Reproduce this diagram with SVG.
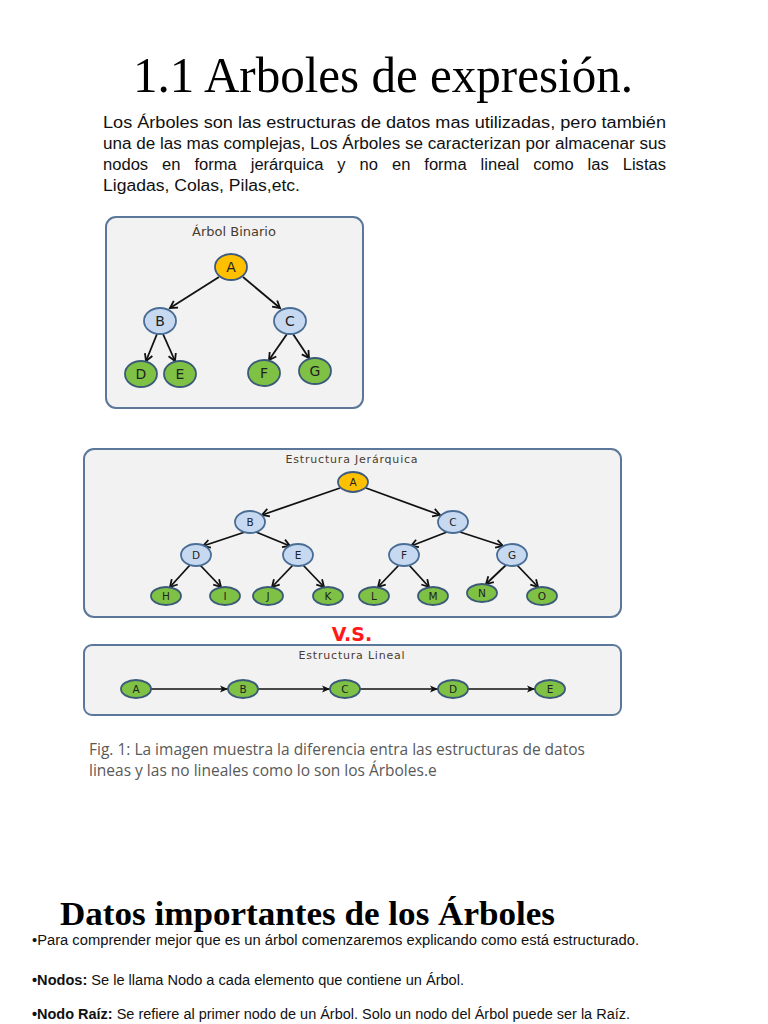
<svg xmlns="http://www.w3.org/2000/svg" width="768" height="1024" viewBox="0 0 768 1024">
<defs>
<marker id="open" markerWidth="10" markerHeight="10" refX="8" refY="5" orient="auto" markerUnits="userSpaceOnUse">
<path d="M1,1 L8,5 L1,9" fill="none" stroke="#111" stroke-width="1.8"/>
</marker>
<marker id="fill" markerWidth="10" markerHeight="8" refX="8" refY="4" orient="auto" markerUnits="userSpaceOnUse">
<path d="M0,0.5 L8,4 L0,7.5 L2,4 Z" fill="#111"/>
</marker>
</defs>
<style>
.frame{fill:#f2f2f2;stroke:#5b7799;stroke-width:2}
.root{fill:#ffc000;stroke:#3e5b80;stroke-width:1.8}
.mid{fill:#c6d9f1;stroke:#4a6d96;stroke-width:1.8}
.leaf{fill:#7ec144;stroke:#3b5a78;stroke-width:1.8}
.lbl{font-family:"DejaVu Sans",Verdana,sans-serif;fill:#222;text-anchor:middle}
.big{font-size:14px}
.sm{font-size:10.5px}
.edge{stroke:#111;stroke-width:1.8;fill:none;marker-end:url(#open)}
.ledge{stroke:#111;stroke-width:1.6;fill:none;marker-end:url(#fill)}
.cap{font-family:"DejaVu Sans",Verdana,sans-serif;fill:#4a3c30;text-anchor:middle}
.body{font-family:"Liberation Sans Narrow","Liberation Sans",Arial,sans-serif;font-size:16px;fill:#111}
.bul{font-family:"Liberation Sans Narrow","Liberation Sans",Arial,sans-serif;font-size:14px;fill:#111}
</style>
<rect width="768" height="1024" fill="#fff"/>

<text x="383" y="92" font-family="Liberation Serif,Times New Roman,serif" font-size="50" text-anchor="middle" textLength="500" lengthAdjust="spacingAndGlyphs" fill="#000">1.1 Arboles de expresión.</text>

<text class="body" x="103" y="128" textLength="563" lengthAdjust="spacingAndGlyphs">Los Árboles son las estructuras de datos mas utilizadas, pero también</text>
<text class="body" x="103" y="149" textLength="563" lengthAdjust="spacingAndGlyphs">una de las mas complejas, Los Árboles se caracterizan por almacenar sus</text>
<text class="body" x="103" y="170" word-spacing="9" textLength="563" lengthAdjust="spacingAndGlyphs">nodos en forma jerárquica y no en forma lineal como las Listas</text>
<text class="body" x="103" y="191" textLength="197" lengthAdjust="spacingAndGlyphs">Ligadas, Colas, Pilas,etc.</text>

<!-- Binary tree -->
<g id="binary-tree">
<rect class="frame" x="106" y="217" width="257" height="191" rx="10"/>
<text class="cap" x="234" y="236" font-size="13">Árbol Binario</text>
<g id="bt-edges">
<line class="edge" x1="219" y1="277" x2="170" y2="308"/>
<line class="edge" x1="243" y1="277" x2="280" y2="308"/>
<line class="edge" x1="157" y1="334" x2="146" y2="361"/>
<line class="edge" x1="163" y1="334" x2="175" y2="361"/>
<line class="edge" x1="287" y1="334" x2="269" y2="360"/>
<line class="edge" x1="293" y1="334" x2="309" y2="358"/>
</g>
<g id="bt-A"><ellipse class="root" cx="231" cy="267" rx="16" ry="13"/><text class="lbl big" x="231" y="272">A</text></g>
<g id="bt-B"><ellipse class="mid" cx="160" cy="321" rx="16" ry="13"/><text class="lbl big" x="160" y="326">B</text></g>
<g id="bt-C"><ellipse class="mid" cx="290" cy="321" rx="16" ry="13"/><text class="lbl big" x="290" y="326">C</text></g>
<g id="bt-D"><ellipse class="leaf" cx="141" cy="374" rx="16" ry="13"/><text class="lbl big" x="141" y="379">D</text></g>
<g id="bt-E"><ellipse class="leaf" cx="180" cy="374" rx="16" ry="13"/><text class="lbl big" x="180" y="379">E</text></g>
<g id="bt-F"><ellipse class="leaf" cx="264" cy="373" rx="16" ry="13"/><text class="lbl big" x="264" y="378">F</text></g>
<g id="bt-G"><ellipse class="leaf" cx="315" cy="371" rx="16" ry="13"/><text class="lbl big" x="315" y="376">G</text></g>
</g>

<!-- Hierarchical -->
<g id="hier-tree">
<rect class="frame" x="84" y="449" width="537" height="168" rx="10"/>
<text class="cap" x="352" y="463" font-size="11" letter-spacing="0.8">Estructura Jerárquica</text>
<g id="h-edges">
<line class="edge" x1="340" y1="488" x2="262" y2="515"/>
<line class="edge" x1="366" y1="488" x2="440" y2="515"/>
<line class="edge" x1="245" y1="532" x2="203" y2="546"/>
<line class="edge" x1="256" y1="532" x2="290" y2="546"/>
<line class="edge" x1="447" y1="532" x2="411" y2="546"/>
<line class="edge" x1="460" y1="532" x2="503" y2="546"/>
<line class="edge" x1="190" y1="565" x2="170" y2="587"/>
<line class="edge" x1="200" y1="565" x2="221" y2="587"/>
<line class="edge" x1="293" y1="565" x2="272" y2="587"/>
<line class="edge" x1="303" y1="565" x2="324" y2="587"/>
<line class="edge" x1="399" y1="565" x2="378" y2="587"/>
<line class="edge" x1="409" y1="565" x2="429" y2="587"/>
<line class="edge" x1="506" y1="565" x2="486" y2="584"/>
<line class="edge" x1="517" y1="565" x2="538" y2="587"/>
</g>
<g id="h-A"><ellipse class="root" cx="353" cy="482" rx="15" ry="10"/><text class="lbl sm" x="353" y="486">A</text></g>
<g id="h-B"><ellipse class="mid" cx="250" cy="522" rx="15" ry="11"/><text class="lbl sm" x="250" y="526">B</text></g>
<g id="h-C"><ellipse class="mid" cx="453" cy="522" rx="15" ry="11"/><text class="lbl sm" x="453" y="526">C</text></g>
<g id="h-D"><ellipse class="mid" cx="196" cy="555" rx="15" ry="11"/><text class="lbl sm" x="196" y="559">D</text></g>
<g id="h-E"><ellipse class="mid" cx="298" cy="555" rx="15" ry="11"/><text class="lbl sm" x="298" y="559">E</text></g>
<g id="h-F"><ellipse class="mid" cx="404" cy="555" rx="15" ry="11"/><text class="lbl sm" x="404" y="559">F</text></g>
<g id="h-G"><ellipse class="mid" cx="512" cy="555" rx="15" ry="11"/><text class="lbl sm" x="512" y="559">G</text></g>
<g id="h-H"><ellipse class="leaf" cx="166" cy="596" rx="15" ry="9"/><text class="lbl sm" x="166" y="600">H</text></g>
<g id="h-I"><ellipse class="leaf" cx="225" cy="596" rx="15" ry="9"/><text class="lbl sm" x="225" y="600">I</text></g>
<g id="h-J"><ellipse class="leaf" cx="268" cy="596" rx="15" ry="9"/><text class="lbl sm" x="268" y="600">J</text></g>
<g id="h-K"><ellipse class="leaf" cx="328" cy="596" rx="15" ry="9"/><text class="lbl sm" x="328" y="600">K</text></g>
<g id="h-L"><ellipse class="leaf" cx="374" cy="596" rx="15" ry="9"/><text class="lbl sm" x="374" y="600">L</text></g>
<g id="h-M"><ellipse class="leaf" cx="433" cy="596" rx="15" ry="9"/><text class="lbl sm" x="433" y="600">M</text></g>
<g id="h-N"><ellipse class="leaf" cx="482" cy="593" rx="15" ry="9"/><text class="lbl sm" x="482" y="597">N</text></g>
<g id="h-O"><ellipse class="leaf" cx="542" cy="596" rx="15" ry="9"/><text class="lbl sm" x="542" y="600">O</text></g>
</g>

<text x="352" y="641" font-family="DejaVu Sans,Verdana,sans-serif" font-size="19" font-weight="bold" fill="#ff1a1a" text-anchor="middle">V.S.</text>

<!-- Linear -->
<g id="linear">
<rect class="frame" x="84" y="645" width="537" height="70" rx="8"/>
<text class="cap" x="352" y="659" font-size="11" letter-spacing="0.8">Estructura Lineal</text>
<g id="l-edges">
<line class="ledge" x1="151" y1="689" x2="228" y2="689"/>
<line class="ledge" x1="258" y1="689" x2="330" y2="689"/>
<line class="ledge" x1="360" y1="689" x2="438" y2="689"/>
<line class="ledge" x1="468" y1="689" x2="535" y2="689"/>
</g>
<g id="l-A"><ellipse class="leaf" cx="136" cy="689" rx="15" ry="9"/><text class="lbl sm" x="136" y="693">A</text></g>
<g id="l-B"><ellipse class="leaf" cx="243" cy="689" rx="15" ry="9"/><text class="lbl sm" x="243" y="693">B</text></g>
<g id="l-C"><ellipse class="leaf" cx="345" cy="689" rx="15" ry="9"/><text class="lbl sm" x="345" y="693">C</text></g>
<g id="l-D"><ellipse class="leaf" cx="453" cy="689" rx="15" ry="9"/><text class="lbl sm" x="453" y="693">D</text></g>
<g id="l-E"><ellipse class="leaf" cx="550" cy="689" rx="15" ry="9"/><text class="lbl sm" x="550" y="693">E</text></g>
</g>

<text x="89" y="755" font-family="Open Sans,sans-serif" font-size="15.5" fill="#595959">Fig. 1: La imagen muestra la diferencia entra las estructuras de datos</text>
<text x="89" y="776" font-family="Open Sans,sans-serif" font-size="15.5" fill="#595959">lineas y las no lineales como lo son los Árboles.e</text>

<text x="60" y="925" font-family="Liberation Serif,Times New Roman,serif" font-size="34" font-weight="bold" textLength="495" lengthAdjust="spacingAndGlyphs" fill="#000">Datos importantes de los Árboles</text>

<text class="bul" x="32" y="945" textLength="607" lengthAdjust="spacingAndGlyphs">•Para comprender mejor que es un árbol comenzaremos explicando como está estructurado.</text>
<text class="bul" x="32" y="985" textLength="432" lengthAdjust="spacingAndGlyphs"><tspan font-weight="bold">•Nodos:</tspan> Se le llama Nodo a cada elemento que contiene un Árbol.</text>
<text class="bul" x="32" y="1019" textLength="598" lengthAdjust="spacingAndGlyphs"><tspan font-weight="bold">•Nodo Raíz:</tspan> Se refiere al primer nodo de un Árbol. Solo un nodo del Árbol puede ser la Raíz.</text>
</svg>
